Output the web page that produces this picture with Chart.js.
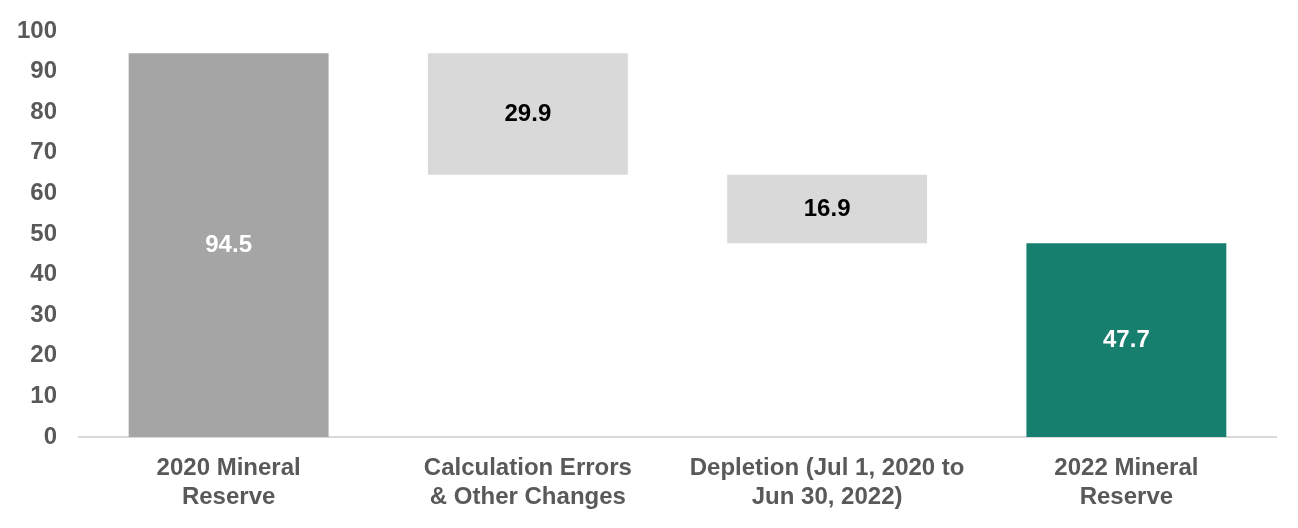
<!DOCTYPE html>
<html>
<head>
<meta charset="utf-8">
<script src="https://cdn.jsdelivr.net/npm/chart.js@4"></script>
<style>
  html, body { margin: 0; padding: 0; background: #fff; }
  #wrap { width: 1298px; height: 528px; }
</style>
</head>
<body>
<div id="wrap"><canvas id="waterfallChart"></canvas></div>
<script>
// Mineral reserve waterfall
const categories = [
    ['2020 Mineral', 'Reserve'],
    ['Calculation Errors', '& Other Changes'],
    ['Depletion (Jul 1, 2020 to', 'Jun 30, 2022)'],
    ['2022 Mineral', 'Reserve']
];
const startReserve = 94.5;
const changes = [29.9, 16.9];
const endReserve = 47.7;
const barColors = ['#A5A5A5', '#D9D9D9', '#D9D9D9', '#167F6E'];
const labelColors = ['#FFFFFF', '#000000', '#000000', '#FFFFFF'];
const yTicks = [0, 10, 20, 30, 40, 50, 60, 70, 80, 90, 100];

// build floating bars: [bottom, top]
const bars = [[0, startReserve]];
let level = startReserve;
changes.forEach(c => {
    bars.push([level - c, level]);
    level -= c;
});
bars.push([0, endReserve]);
const shownValues = [startReserve, ...changes, endReserve];

const FONT = '"Liberation Sans", Arial, sans-serif';

const valueLabels = {
    id: 'valueLabels',
    afterDatasetsDraw(chart) {
        const ctx = chart.ctx;
        const meta = chart.getDatasetMeta(0);
        ctx.save();
        ctx.font = 'bold 24px ' + FONT;
        ctx.textAlign = 'center';
        ctx.textBaseline = 'middle';
        meta.data.forEach((bar, i) => {
            const y = (bar.y + bar.base) / 2;
            ctx.fillStyle = labelColors[i];
            ctx.fillText(shownValues[i].toFixed(1), bar.x, y);
        });
        ctx.restore();
    }
};

new Chart(document.getElementById('waterfallChart'), {
    type: 'bar',
    data: {
        labels: categories,
        datasets: [{
            data: bars,
            backgroundColor: barColors,
            borderWidth: 0,
            categoryPercentage: 1,
            barPercentage: 0.668
        }]
    },
    options: {
        responsive: true,
        maintainAspectRatio: false,
        animation: false,
        layout: { padding: { top: 10, right: 22, left: 0, bottom: 0 } },
        plugins: {
            legend: { display: false },
            tooltip: { enabled: false }
        },
        scales: {
            x: {
                grid: { display: false, drawTicks: false },
                border: { display: true, color: '#D9D9D9', width: 2 },
                ticks: {
                    color: '#595959',
                    font: { family: FONT, size: 24, weight: 'bold', lineHeight: 1.2 },
                    padding: 17,
                    maxRotation: 0,
                    autoSkip: false
                },
                afterFit(scale) { scale.height = 91; }
            },
            y: {
                min: 0,
                max: 100,
                grid: { display: false, drawTicks: false },
                border: { display: false },
                afterBuildTicks(scale) {
                    scale.ticks = yTicks.map(v => ({ value: v }));
                },
                ticks: {
                    color: '#595959',
                    font: { family: FONT, size: 24, weight: 'bold', lineHeight: 0.75 },
                    padding: 22
                },
                afterFit(scale) { scale.width = 79; }
            }
        }
    },
    plugins: [valueLabels]
});
</script>
</body>
</html>
